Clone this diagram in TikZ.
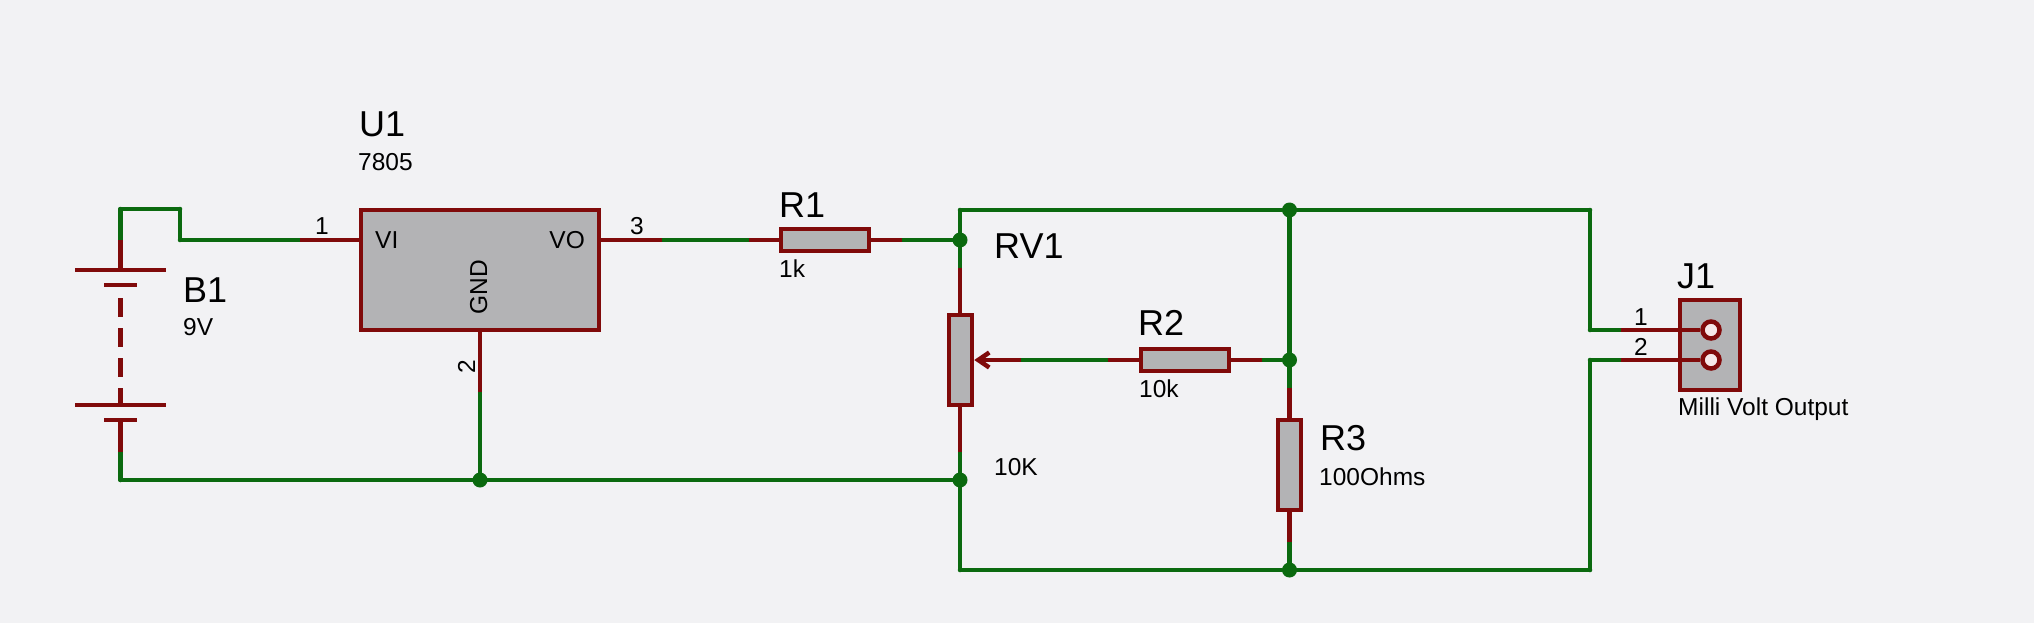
\documentclass[tikz,border=0pt]{standalone}
\usepackage{fontspec}
\setmainfont{Liberation Sans}
\usetikzlibrary{arrows.meta}
\definecolor{wirec}{HTML}{0B6A0F}
\definecolor{pinc}{HTML}{800A0A}
\definecolor{bodyc}{HTML}{B3B3B5}
\definecolor{backc}{HTML}{F2F2F4}
\definecolor{holec}{HTML}{F6E8E8}

\begin{document}
\begin{tikzpicture}[x=1pt,y=-1pt,
 net/.style={draw=wirec,line width=4.5pt,line cap=round},
 lead/.style={draw=pinc,line width=4.5pt},
 part/.style={rectangle,draw=pinc,fill=bodyc,line width=4.5pt,inner sep=0pt},
 dot/.style={circle,fill=wirec,inner sep=0pt,minimum size=15pt},
 hole/.style={circle,draw=pinc,fill=holec,line width=4.5pt,inner sep=0pt,minimum size=17pt},
 big/.style={inner sep=0pt,anchor=base west,font=\fontsize{36}{36}\selectfont},
 small/.style={inner sep=0pt,anchor=base west,font=\fontsize{24.5}{24.5}\selectfont}]

  \path[fill=backc,use as bounding box] (0,0) rectangle (2034,623);

  % wire corners and free ends
  \foreach \n/\x/\y in {b1/120.5/240, b2/120.5/209, b3/180/209, b4/180/240, vi/300/240,
    gnd/480/392, b5/120.5/452, b6/120.5/480, vo/662/240, r1l/749/240, r1r/902/240,
    rvt/960/268, rvb/960/452, t1/960/210, t2/1590/210, t3/1590/330, j1a/1621/330,
    j1b/1621/360, u1/1590/360, u2/1590/570, bt/960/570, wip/1021/360, r2l/1108/360,
    r2r/1262/360, r3t/1289.5/388, r3b/1289.5/542} {
   \coordinate (\n) at (\x,\y);}

  % junctions
  \foreach \n/\x/\y in {n1/480/480, n2/960/240, n3/960/480, n4/1289.5/210, n5/1289.5/360, n6/1289.5/570} {
   \node[dot] (\n) at (\x,\y) {};}

  % parts
  \node[part,minimum width=238pt,minimum height=120pt] (U1) at (480,270) {};
  \node[part,minimum width=88pt,minimum height=22pt] (R1) at (825,240) {};
  \node[part,minimum width=88pt,minimum height=22pt] (R2) at (1185,360) {};
  \node[part,minimum width=23pt,minimum height=90pt] (RV1) at (960.5,360) {};
  \node[part,minimum width=23pt,minimum height=90pt] (R3) at (1289.5,465) {};
  \node[part,minimum width=60pt,minimum height=90pt] (J1) at (1710,345) {};

  % green wires
  \foreach \s/\t in {b1/b2, b2/b3, b3/b4, b4/vi, gnd/n1, b5/b6, b6/n1, n1/n3, vo/r1l, r1r/n2,
    n2/rvt, n2/t1, n3/rvb, n3/bt, t1/n4, n4/t2, t2/t3, t3/j1a, j1b/u1, u1/u2, u2/n6, bt/n6,
    n4/n5, n5/r3t, r3b/n6, wip/r2l, r2r/n5} {
   \path[net] (\s) -- (\t);}

  % red leads
  \foreach \s/\t in {vi/U1.west |- vi, vo/U1.east |- vo, gnd/U1.south, r1l/R1.west, r1r/R1.east,
    r2l/R2.west, r2r/R2.east, rvt/RV1.north -| rvt, rvb/RV1.south -| rvb, r3t/R3.north, r3b/R3.south} {
   \path[lead] (\s) -- (\t);}
  \path[lead,-{Straight Barb[length=11pt,width=15pt,line width=4.5pt]}] (wip) -- (RV1.east);

  % battery
  \foreach \n/\x/\y in {p1/75/270, p2/166/270, p3/104/285, p4/137/285, p5/75/405, p6/166/405,
    p7/104/420, p8/137/420, c1/120.5/298, c2/120.5/403, c3/120.5/420} {
   \coordinate (\n) at (\x,\y);}
  \foreach \s/\t in {b1/b1 |- p1, p1/p2, p3/p4, p5/p6, p7/p8, c3/b5} {
   \path[lead] (\s) -- (\t);}
  \path[lead,dash pattern=on 19pt off 11pt] (c1) -- (c2);

  % connector
  \node[hole] (h1) at (1711,330) {};
  \node[hole] (h2) at (1711,360) {};
  \path[lead] (j1a) -- (h1.west);
  \path[lead] (j1b) -- (h2.west);

  % labels
  \foreach \n/\x/\y/\t in {U1/359/137/U1, B1/183/302/B1, R1/779/217/R1, RV1/994/258/RV1,
    R2/1138/335/R2, R3/1320/450/R3, J1/1677/288/J1} {
   \node[big] (name\n) at (\x,\y) {\t};}
  \foreach \n/\x/\y/\t in {U1/358/170/7805, B1/183/335/9V, R1/779/277/1k, RV1/994/475/10K,
    R2/1139/397/10k, R3/1319/485/100Ohms, J1/1678/415/Milli Volt Output,
    vi/375/248/VI, p1/315/234/1, p3/630/234/3, j1/1634/325/1, j2/1634/355/2} {
   \node[small] (val\n) at (\x,\y) {\t};}
  \node[small,anchor=base east] (valvo) at (585,248) {VO};
  \node[small,anchor=base,rotate=90] (valgnd) at (487,287) {GND};
  \node[small,anchor=base,rotate=90] (valp2) at (475,367) {2};
\end{tikzpicture}
\end{document}
